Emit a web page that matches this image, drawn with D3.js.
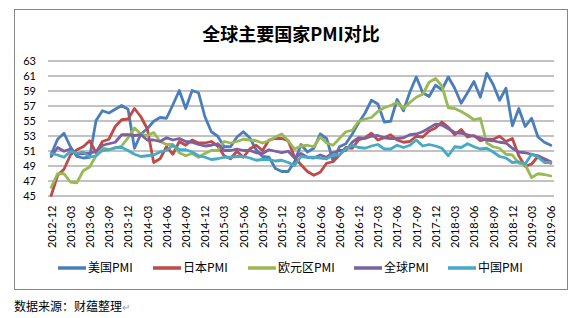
<!DOCTYPE html>
<html>
<head>
<meta charset="utf-8">
<script src="https://cdn.jsdelivr.net/npm/d3@7"></script>
<style>
  body { margin: 0; background: #fff; }
  svg { display: block; }
  .ax text { font-family: Lato, "Noto Sans", sans-serif; font-size: 11px; fill: #000; }
  .cjk { font-family: "Noto Sans CJK SC", sans-serif; }
</style>
</head>
<body>
<div id="chart"></div>
<script>
let width = 572;
let height = 318;

// months 2012-12 .. 2019-06 (categories)
let months = d3.timeMonth.range(new Date(2012, 11, 1), new Date(2019, 6, 1)).map(d3.timeFormat("%Y-%m"));

let usPMI = [50.5,
  52.5, 53.3, 51.5, 50.2, 50.0, 50.1, 55.0, 56.3, 56.0, 56.5, 57.0, 56.5,
  51.3, 53.2, 53.9, 54.9, 55.4, 55.3, 57.1, 59.0, 56.6, 59.0, 58.7, 55.5,
  53.5, 52.9, 51.5, 51.5, 52.8, 53.5, 52.7, 51.1, 50.2, 50.1, 48.6, 48.2,
  48.2, 49.5, 51.8, 50.8, 51.3, 53.2, 52.6, 49.6, 51.5, 51.9, 53.2, 54.7,
  56.0, 57.7, 57.2, 54.8, 54.9, 57.8, 56.3, 58.8, 60.8, 58.7, 58.2, 59.7,
  59.1, 60.8, 59.3, 57.3, 58.7, 60.2, 58.1, 61.3, 59.8, 57.7, 59.3, 54.3,
  56.6, 54.2, 55.3, 52.8, 52.1, 51.7];

let japanPMI = [45.0,
  47.7, 48.5, 50.4, 51.1, 51.5, 52.3, 50.7, 52.2, 52.5, 54.2, 55.1, 55.2,
  56.6, 55.5, 53.9, 49.4, 49.9, 51.5, 50.5, 52.2, 51.7, 52.4, 52.0, 52.0,
  52.2, 51.6, 50.3, 49.9, 50.9, 50.1, 51.2, 51.7, 51.0, 52.4, 52.6, 52.6,
  52.3, 50.1, 49.1, 48.2, 47.7, 48.1, 49.3, 49.5, 50.4, 51.4, 51.3, 52.4,
  52.7, 53.3, 52.4, 52.7, 53.1, 52.4, 52.1, 52.2, 52.9, 52.8, 53.6, 54.0,
  54.8, 54.1, 53.1, 53.8, 52.8, 53.0, 52.3, 52.5, 52.5, 52.9, 52.2, 52.6,
  50.3, 48.9, 49.2, 50.2, 49.8, 49.3];

let euroPMI = [46.1,
  47.9, 47.9, 46.8, 46.7, 48.3, 48.8, 50.3, 51.4, 51.1, 51.3, 51.6, 52.7,
  54.0, 53.2, 53.0, 53.4, 52.2, 51.8, 51.8, 50.7, 50.3, 50.6, 50.1, 50.6,
  51.0, 51.0, 52.2, 52.0, 52.2, 52.5, 52.4, 52.3, 52.0, 52.3, 52.8, 53.2,
  52.3, 51.2, 51.6, 51.7, 51.5, 52.8, 52.0, 51.7, 52.6, 53.5, 53.7, 54.9,
  55.2, 55.4, 56.2, 56.7, 57.0, 57.4, 56.6, 57.4, 58.1, 58.5, 60.1, 60.6,
  59.6, 56.7, 56.6, 56.2, 55.7, 55.1, 55.3, 52.0, 51.5, 51.3, 50.5, 50.4,
  49.3, 49.1, 47.4, 47.9, 47.8, 47.6];

let globalPMI = [50.2,
  51.4, 50.9, 51.2, 50.5, 50.6, 50.6, 50.9, 51.7, 51.9, 52.1, 53.1, 53.1,
  53.0, 53.1, 52.4, 52.4, 52.2, 52.7, 52.4, 52.6, 52.2, 52.1, 51.8, 51.6,
  51.7, 51.9, 51.0, 51.0, 51.2, 51.0, 51.0, 50.7, 50.6, 51.1, 50.9, 50.7,
  50.9, 50.0, 50.6, 50.1, 50.0, 50.4, 50.1, 50.7, 51.0, 51.0, 52.1, 52.7,
  52.6, 52.9, 53.0, 52.7, 52.6, 52.6, 52.7, 53.1, 53.2, 53.5, 54.0, 54.5,
  54.4, 53.9, 53.4, 53.3, 53.1, 52.9, 52.7, 52.4, 52.3, 52.1, 52.0, 51.3,
  50.8, 50.7, 50.5, 50.3, 49.9, 49.5];

let chinaPMI = [50.6,
  50.4, 50.1, 50.9, 50.6, 50.8, 50.1, 50.3, 51.0, 51.1, 51.4, 51.4, 51.0,
  50.5, 50.2, 50.3, 50.4, 50.8, 51.0, 51.7, 51.1, 51.1, 50.8, 50.3, 50.1,
  49.8, 49.9, 50.1, 50.1, 50.2, 50.2, 50.0, 49.7, 49.8, 49.8, 49.6, 49.7,
  49.4, 49.0, 50.2, 50.1, 50.1, 50.0, 49.9, 50.4, 50.4, 51.2, 51.7, 51.4,
  51.3, 51.6, 51.8, 51.2, 51.2, 51.7, 51.4, 51.7, 52.4, 51.6, 51.8, 51.6,
  51.3, 50.3, 51.5, 51.4, 51.9, 51.5, 51.2, 51.3, 50.8, 50.2, 50.0, 49.4,
  49.5, 49.2, 50.5, 50.1, 49.4, 49.4];

let seriesNames = ["美国PMI", "日本PMI", "欧元区PMI", "全球PMI", "中国PMI"];
let seriesValues = [usPMI, japanPMI, euroPMI, globalPMI, chinaPMI];
let yTicks = [45, 47, 49, 51, 53, 55, 57, 59, 61, 63];

let colors = d3.scaleOrdinal()
    .domain(seriesNames)
    .range(["#4a7ebb", "#be4b48", "#98b954", "#7d60a0", "#46aac5"]);

let plot = {left: 48, right: 554, top: 60.5, bottom: 195.5};

let svg = d3.select("#chart").append("svg")
    .attr("width", width)
    .attr("height", height);

svg.append("rect")
    .attr("x", 14.5).attr("y", 9.5)
    .attr("width", 553).attr("height", 280)
    .attr("fill", "#fff")
    .attr("stroke", "#878787");

svg.append("text")
    .attr("class", "cjk")
    .attr("x", 291).attr("y", 41)
    .attr("text-anchor", "middle")
    .style("font-size", "18px")
    .style("font-weight", "bold")
    .text("全球主要国家PMI对比");

let xScale = d3.scalePoint()
    .domain(months)
    .range([plot.left, plot.right])
    .padding(0.5);

let yScale = d3.scaleLinear()
    .domain([45, 63])
    .range([plot.bottom, plot.top]);

// gridlines + y labels
let yAxis = svg.append("g")
    .attr("class", "ax")
    .attr("transform", "translate(" + plot.left + ",0)")
    .call(d3.axisLeft(yScale)
        .tickValues(yTicks)
        .tickSize(-(plot.right - plot.left))
        .tickPadding(12));
yAxis.select(".domain").remove();
yAxis.selectAll("line").attr("stroke", "#868686");

// x labels, every third month
let xAxis = svg.append("g")
    .attr("class", "ax")
    .attr("transform", "translate(0," + plot.bottom + ")")
    .call(d3.axisBottom(xScale)
        .tickValues(months.filter((m, i) => i % 3 === 0))
        .tickSize(0));
xAxis.select(".domain").remove();
xAxis.selectAll("text")
    .attr("transform", "rotate(-90)")
    .attr("text-anchor", "end")
    .attr("x", -10)
    .attr("y", 0)
    .attr("dy", "0.35em");

let line = d3.line()
    .x((d, i) => xScale(months[i]))
    .y(d => yScale(d));

svg.selectAll(".series")
    .data(seriesNames)
    .enter()
    .append("path")
    .attr("class", "series")
    .attr("d", (name, k) => line(seriesValues[k]))
    .attr("fill", "none")
    .attr("stroke", d => colors(d))
    .attr("stroke-width", 2.8)
    .attr("stroke-linejoin", "round")
    .attr("stroke-linecap", "round");

// legend
let legendX = [58, 153, 248, 354, 448];
let legend = svg.selectAll(".legend")
    .data(seriesNames)
    .enter()
    .append("g")
    .attr("class", "legend")
    .attr("transform", (d, i) => "translate(" + legendX[i] + ",268)");

legend.append("line")
    .attr("x1", 0).attr("x2", 28)
    .attr("stroke", d => colors(d))
    .attr("stroke-width", 3.5);

legend.append("text")
    .attr("class", "cjk")
    .attr("x", 30)
    .attr("dy", "0.36em")
    .style("font-size", "12px")
    .text(d => d);

// source note
let note = svg.append("text")
    .attr("class", "cjk")
    .attr("x", 14).attr("y", 311)
    .style("font-size", "12px");
note.append("tspan").text("数据来源：财蕴整理");
note.append("tspan").attr("fill", "#999").style("font-size", "10px").text("↵");
</script>
</body>
</html>
